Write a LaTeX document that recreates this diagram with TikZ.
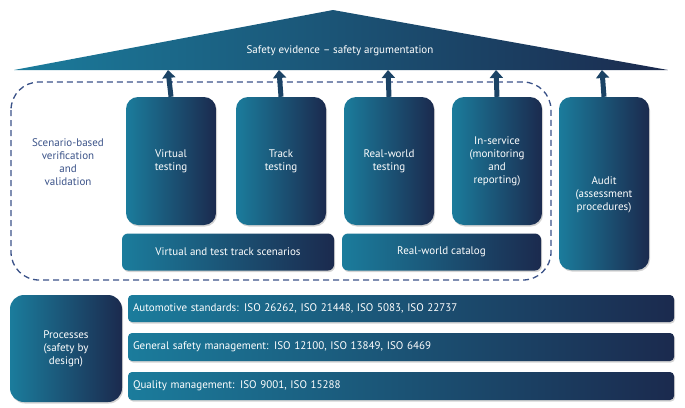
\documentclass[tikz,border=0pt]{standalone}
\usepackage{fontspec}
\setmainfont{PT Sans}
\usetikzlibrary{shadows,arrows.meta}
\definecolor{teal1}{HTML}{1B7C9C}
\definecolor{navy1}{HTML}{1B2A4E}
\definecolor{dash1}{HTML}{3A5288}
\tikzset{
  blk/.style={rounded corners=#1, left color=teal1, right color=navy1, draw=none,
    drop shadow={shadow xshift=1pt,shadow yshift=-1.5pt,opacity=0.35}, text=white,
    font=\fontsize{11}{13}\selectfont, align=center, inner sep=0pt},
  blk/.default=12pt,
  upar/.style={-{Triangle[width=13pt,length=8pt]}, line width=5pt, draw=navy1!70!teal1},
}
\begin{document}
\begin{tikzpicture}[x=1pt,y=-1pt]
\useasboundingbox (0,0) rectangle (685,407);
% roof
\shade[left color=teal1, right color=navy1] (14,70) -- (333,10) -- (668,70) -- cycle;
\node[text=white,font=\fontsize{11}{13}\selectfont] (roof) at (340,51) {Safety evidence -- safety argumentation};
\coordinate (r1) at (168,70); \coordinate (r2) at (279,70); \coordinate (r3) at (388,70);
\coordinate (r4) at (496,70); \coordinate (r5) at (602,70);
% dashed region
\draw[dash1, dashed, line width=1.3pt, dash pattern=on 6pt off 4pt, rounded corners=28pt] (11,82) rectangle (551,280);
\node[text=dash1, align=center, font=\fontsize{11}{13}\selectfont] (sb) at (68,162) {Scenario-based\\verification\\and\\validation};
% pillars
\node[blk, minimum width=90pt, minimum height=128pt] (p1) at (171,161) {Virtual\\testing};
\node[blk, minimum width=90pt, minimum height=128pt] (p2) at (281,161) {Track\\testing};
\node[blk, minimum width=90pt, minimum height=128pt] (p3) at (389,161) {Real-world\\testing};
\node[blk, minimum width=90pt, minimum height=128pt] (p4) at (497,161) {In-service\\(monitoring\\and\\reporting)};
\node[blk, minimum width=90pt, minimum height=173pt] (p5) at (604,183.5) {\\[18pt]Audit\\(assessment\\procedures)};
\foreach \i in {1,...,5} \draw[upar] (p\i.north) -- (r\i);
% scenarios
\node[blk=6pt, minimum width=212pt, minimum height=37pt] (s1) at (228,252) {Virtual and test track scenarios};
\node[blk=6pt, minimum width=199pt, minimum height=37pt] (s2) at (441.5,252) {Real-world catalog};
% processes
\node[blk=14pt, minimum width=112pt, minimum height=107pt] (pr) at (66,348.5) {Processes\\(safety by\\design)};
\node[blk=4pt, minimum width=546pt, minimum height=27pt, text width=536pt, align=left] (b1) at (401,308.5) {Automotive standards: ISO 26262, ISO 21448, ISO 5083, ISO 22737};
\node[blk=4pt, minimum width=546pt, minimum height=28pt, text width=536pt, align=left] (b2) at (401,347) {General safety management: ISO 12100, ISO 13849, ISO 6469};
\node[blk=4pt, minimum width=546pt, minimum height=28pt, text width=536pt, align=left] (b3) at (401,386) {Quality management: ISO 9001, ISO 15288};
\end{tikzpicture}
\end{document}
